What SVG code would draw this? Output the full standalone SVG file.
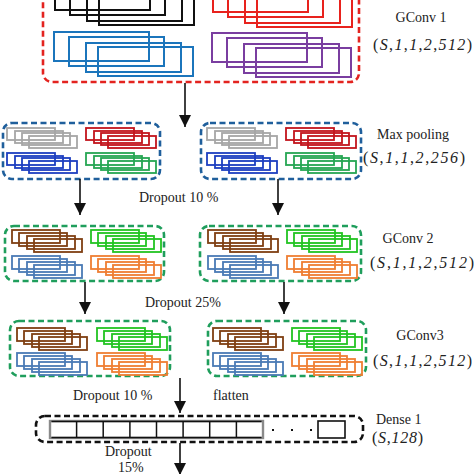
<svg xmlns="http://www.w3.org/2000/svg" width="474" height="474" viewBox="0 0 474 474">
<style>
.lbl{font-family:"Liberation Serif","Times New Roman",serif;font-size:14px;fill:#222}
.math{font-family:"Liberation Serif","Times New Roman",serif;font-size:16px;fill:#222}
.it{font-style:italic}
.box{fill:none;stroke-width:2.6;stroke-dasharray:6 3.5}
.conn{stroke:#111;stroke-width:1.6;fill:none}
.big rect{fill:none;stroke:currentColor;stroke-width:2}
.sm rect{fill:none;stroke:currentColor;stroke-width:1.8}
</style>
<defs>
<marker id="arr" markerUnits="userSpaceOnUse" markerWidth="14" markerHeight="14" viewBox="0 0 14 14" refX="12" refY="7" orient="auto">
<path d="M0,1 L12,7 L0,13 Z" fill="#111"/>
</marker>
<g id="bigstack" class="big">
<rect x="0" y="0" width="95" height="29"/>
<rect x="15" y="5" width="95" height="29"/>
<rect x="32" y="11" width="95" height="29"/>
<rect x="44" y="15" width="95" height="29"/>
</g>
<g id="smstack" class="sm">
<rect x="0" y="0" width="48" height="12"/>
<rect x="8" y="3" width="48" height="12"/>
<rect x="15" y="5" width="48" height="12"/>
<rect x="22" y="8" width="48" height="12"/>
</g>
<g id="smstack2" class="sm">
<rect x="0" y="0" width="48" height="13"/>
<rect x="7" y="3" width="48" height="13"/>
<rect x="15" y="6" width="48" height="13"/>
<rect x="22" y="9" width="48" height="13"/>
</g>
</defs>
<rect width="474" height="474" fill="#fff"/>

<g id="gconv1">
<rect class="box" x="43" y="-12" width="316" height="94" rx="9" stroke="#e3231f"/>
<use href="#bigstack" x="55" y="-19" style="color:#111"/>
<use href="#bigstack" x="213" y="-17" style="color:#e8221d"/>
<use href="#bigstack" x="54" y="32" style="color:#1b75bc"/>
<use href="#bigstack" x="212" y="33" style="color:#7a3ea0"/>
</g>

<g id="maxpool-left">
<rect class="box" x="3" y="123" width="157" height="56" rx="9" stroke="#1f5f9c"/>
<use href="#smstack" x="7" y="128" style="color:#a6a6a6"/>
<use href="#smstack" x="86" y="128" style="color:#c3141c"/>
<use href="#smstack" x="7" y="153" style="color:#1d3fc0"/>
<use href="#smstack" x="86" y="153" style="color:#26a653"/>
</g>
<g id="maxpool-right">
<rect class="box" x="201" y="123" width="160" height="56" rx="9" stroke="#1f5f9c"/>
<use href="#smstack" x="207" y="128" style="color:#a6a6a6"/>
<use href="#smstack" x="286" y="128" style="color:#c3141c"/>
<use href="#smstack" x="207" y="153" style="color:#1d3fc0"/>
<use href="#smstack" x="286" y="153" style="color:#26a653"/>
</g>

<g id="gconv2-left">
<rect class="box" x="5" y="226" width="159" height="55" rx="9" stroke="#1f9e5c"/>
<use href="#smstack2" x="12" y="230" style="color:#7f3f12"/>
<use href="#smstack2" x="91" y="230" style="color:#22c422"/>
<use href="#smstack2" x="12" y="256" style="color:#4a7ab5"/>
<use href="#smstack2" x="91" y="256" style="color:#ef7e32"/>
</g>
<g id="gconv2-right">
<rect class="box" x="200" y="226" width="161" height="55" rx="9" stroke="#1f9e5c"/>
<use href="#smstack2" x="208" y="230" style="color:#7f3f12"/>
<use href="#smstack2" x="287" y="230" style="color:#22c422"/>
<use href="#smstack2" x="208" y="256" style="color:#4a7ab5"/>
<use href="#smstack2" x="287" y="256" style="color:#ef7e32"/>
</g>

<g id="gconv3-left">
<rect class="box" x="10" y="321" width="160" height="55" rx="9" stroke="#1f9e5c"/>
<use href="#smstack2" x="17" y="328" style="color:#7f3f12"/>
<use href="#smstack2" x="97" y="328" style="color:#22c422"/>
<use href="#smstack2" x="17" y="353" style="color:#4a7ab5"/>
<use href="#smstack2" x="97" y="353" style="color:#ef7e32"/>
</g>
<g id="gconv3-right">
<rect class="box" x="208" y="321" width="158" height="55" rx="9" stroke="#1f9e5c"/>
<use href="#smstack2" x="213" y="328" style="color:#7f3f12"/>
<use href="#smstack2" x="292" y="328" style="color:#22c422"/>
<use href="#smstack2" x="213" y="353" style="color:#4a7ab5"/>
<use href="#smstack2" x="292" y="353" style="color:#ef7e32"/>
</g>

<g id="dense1">
<rect class="box" x="36" y="416" width="327" height="26" rx="9" stroke="#111"/>
<rect x="50" y="421" width="213" height="17" fill="none" stroke="#8a8a8a" stroke-width="2.4"/>
<g stroke="#111" stroke-width="1.5">
<line x1="76.6" y1="421" x2="76.6" y2="438"/>
<line x1="103.2" y1="421" x2="103.2" y2="438"/>
<line x1="129.9" y1="421" x2="129.9" y2="438"/>
<line x1="156.5" y1="421" x2="156.5" y2="438"/>
<line x1="183.1" y1="421" x2="183.1" y2="438"/>
<line x1="209.7" y1="421" x2="209.7" y2="438"/>
<line x1="236.4" y1="421" x2="236.4" y2="438"/>
<line x1="51.5" y1="421.5" x2="261.5" y2="421.5"/>
<line x1="51.5" y1="437.5" x2="261.5" y2="437.5"/>
</g>
<g fill="#111">
<rect x="272" y="429" width="2" height="2"/>
<rect x="291" y="429" width="2" height="2"/>
<rect x="310" y="429" width="2" height="2"/>
</g>
<rect x="318" y="421" width="27" height="17" fill="none" stroke="#111" stroke-width="1.6"/>
</g>

<g id="connectors">
<line class="conn" x1="185" y1="83" x2="185" y2="127" marker-end="url(#arr)"/>
<line class="conn" x1="80" y1="179" x2="80" y2="215" marker-end="url(#arr)"/>
<line class="conn" x1="278" y1="179" x2="278" y2="215" marker-end="url(#arr)"/>
<line class="conn" x1="85" y1="282" x2="85" y2="314" marker-end="url(#arr)"/>
<line class="conn" x1="284" y1="282" x2="284" y2="314" marker-end="url(#arr)"/>
<line class="conn" x1="180" y1="378" x2="180" y2="413" marker-end="url(#arr)"/>
<line class="conn" x1="180" y1="443" x2="180" y2="475" marker-end="url(#arr)"/>
</g>

<g id="labels">
<text class="lbl" x="421" y="22" text-anchor="middle">GConv 1</text>
<text class="math" x="373" y="50" textLength="99" lengthAdjust="spacing">(<tspan class="it">S</tspan>,<tspan class="it">1</tspan>,<tspan class="it">1</tspan>,<tspan class="it">2</tspan>,<tspan class="it">512</tspan>)</text>
<text class="lbl" x="413" y="139" text-anchor="middle">Max pooling</text>
<text class="math" x="363" y="163" textLength="102" lengthAdjust="spacing">(<tspan class="it">S</tspan>,<tspan class="it">1</tspan>,<tspan class="it">1</tspan>,<tspan class="it">2</tspan>,<tspan class="it">256</tspan>)</text>
<text class="lbl" x="139" y="202">Dropout 10 %</text>
<text class="lbl" x="408" y="243" text-anchor="middle">GConv 2</text>
<text class="math" x="370" y="268" textLength="104" lengthAdjust="spacing">(<tspan class="it">S</tspan>,<tspan class="it">1</tspan>,<tspan class="it">1</tspan>,<tspan class="it">2</tspan>,<tspan class="it">512</tspan>)</text>
<text class="lbl" x="145" y="307">Dropout  25%</text>
<text class="lbl" x="420" y="340" text-anchor="middle">GConv3</text>
<text class="math" x="373" y="366" textLength="99" lengthAdjust="spacing">(<tspan class="it">S</tspan>,<tspan class="it">1</tspan>,<tspan class="it">1</tspan>,<tspan class="it">2</tspan>,<tspan class="it">512</tspan>)</text>
<text class="lbl" x="73" y="400">Dropout 10 %</text>
<text class="lbl" x="213" y="400">flatten</text>
<text class="lbl" x="376" y="424">Dense 1</text>
<text class="math" x="372" y="443" textLength="51" lengthAdjust="spacing">(<tspan class="it">S</tspan>,<tspan class="it">128</tspan>)</text>
<text class="lbl" x="105" y="456">Dropout</text>
<text class="lbl" x="118" y="472">15%</text>
</g>
</svg>
